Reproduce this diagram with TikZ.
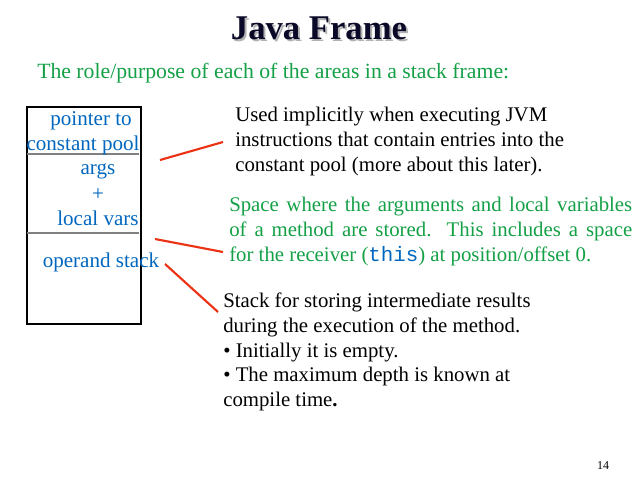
\documentclass[tikz,border=0pt]{standalone}
\usepackage{fontspec}
\setmainfont{Liberation Serif}
\setmonofont{Liberation Mono}
\definecolor{tblue}{RGB}{0,102,190}
\definecolor{tgreen}{RGB}{20,160,70}
\definecolor{tred}{RGB}{235,50,20}
\definecolor{ttitle}{RGB}{10,10,40}
\begin{document}
\begin{tikzpicture}[x=0.75pt,y=-0.75pt,
  txt/.style={inner sep=0,anchor=north west,align=left,font=\fontsize{15.6}{18.5}\selectfont},
  box/.style={inner sep=0,align=center,text=tblue,font=\fontsize{15.8}{19}\selectfont},
  rl/.style={tred,line width=1.6pt}]
\useasboundingbox (0,0) rectangle (638,478);
\node[font=\fontsize{26}{30}\bfseries\selectfont,text=gray!60] at (321,30) {Java Frame};
\node (title)[font=\fontsize{26}{30}\bfseries\selectfont,text=ttitle] at (319,28) {Java Frame};
\node (sub)[anchor=west,inner sep=0,text=tgreen,font=\fontsize{16.3}{18}\selectfont] at (37,73) {The role/purpose of each of the areas in a stack frame:};
\node (frame)[draw,line width=1.8pt,minimum width=114*0.75pt,minimum height=217*0.75pt,anchor=north west,inner sep=0] at (26,106) {};
\draw[gray,line width=0.8pt] (27,154) -- (139,154);
\draw[gray,line width=0.8pt] (27,233) -- (139,233);
\node (cp)[box] at (83,133) {\hspace*{12pt}pointer to\\constant pool};
\node (args)[box] at (98,195) {args\\+\\local vars};
\node (os)[box] at (101,262) {operand stack};
\node (t1)[txt] at (235,107) {Used implicitly when executing JVM\\instructions that contain entries into the\\constant pool (more about this later).};
\node (t2)[txt,text=tgreen,text width=403*0.75pt,align=justify] at (229,197) {Space where the arguments and local variables\linebreak of a method are stored. This includes a space\linebreak for the receiver (\texttt{\color{tblue}this}) at position/offset 0.};
\node (t3)[txt] at (223,293) {Stack for storing intermediate results\\during the execution of the method.\\\textbullet{} Initially it is empty.\\\textbullet{} The maximum depth is known at\\compile time\textbf{.}};
\node (pg)[font=\fontsize{9}{10}\selectfont] at (603,466) {14};
\coordinate (a1) at (223,142); \coordinate (a2) at (223,252); \coordinate (a3) at (218,312);
\coordinate (b1) at (160,160); \coordinate (b2) at (155,239); \coordinate (b3) at (165,264);
\draw[rl] (b1) -- (a1);
\draw[rl] (b2) -- (a2);
\draw[rl] (b3) -- (a3);
\end{tikzpicture}
\end{document}
